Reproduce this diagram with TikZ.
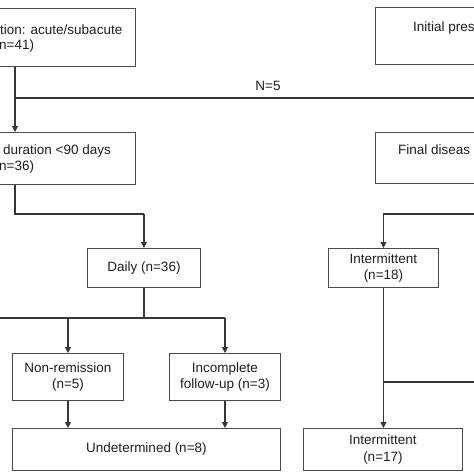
\documentclass[tikz,border=0pt]{standalone}
\usepackage{fontspec}
\setmainfont{Liberation Sans}
\usetikzlibrary{arrows.meta}
\definecolor{linecol}{RGB}{55,55,55}
\definecolor{boxcol}{RGB}{75,75,75}
\definecolor{txtcol}{RGB}{30,30,30}
\tikzset{
  box/.style={draw=boxcol, line width=0.9pt, rectangle, inner sep=0pt, anchor=north west,
    align=center, text=txtcol, font=\fontsize{13.5}{16.5}\selectfont},
  lbl/.style={inner sep=0pt, text=txtcol, font=\fontsize{13.5}{16.5}\selectfont},
  conn/.style={draw=linecol, line width=1.1pt},
  arr/.style={conn, -{Triangle[length=6pt,width=6pt]}, shorten >=0pt},
}
\begin{document}
\begin{tikzpicture}[x=1pt,y=-1pt]
\useasboundingbox (0,0) rectangle (474,474);
\clip (0,0) rectangle (474,474);
% boxes
\node[box, minimum width=295pt, minimum height=58pt] (b1) at (-160,8) {};
\node[lbl, anchor=west] (b1t1) at (0,30) {tion: acute/subacute};
\node[lbl, anchor=west] (b1t2) at (-1,46) {n=41)};
\node[box, minimum width=245pt, minimum height=57pt] (bi) at (375,7) {};
\node[lbl, anchor=west] (bit) at (413,28) {Initial pres};
\node[box, minimum width=295pt, minimum height=52pt] (b2) at (-160,132) {};
\node[lbl, anchor=west] (b2t1) at (3,151) {duration <90 days};
\node[lbl, anchor=west] (b2t2) at (-1,167) {n=36)};
\node[box, minimum width=245pt, minimum height=51pt] (bf) at (375,132) {};
\node[lbl, anchor=west] (bft) at (398,150) {Final diseas};
\node[box, minimum width=113pt, minimum height=39pt] (daily) at (87,248) {Daily (n=36)};
\node[box, minimum width=110pt, minimum height=39pt] (int18) at (328,248) {Intermittent\\(n=18)};
\node[box, minimum width=111pt, minimum height=47pt] (nonrem) at (12,353) {Non-remission\\(n=5)};
\node[box, minimum width=111pt, minimum height=47pt] (incomp) at (169,353) {Incomplete\\follow-up (n=3)};
\node[box, minimum width=268pt, minimum height=42pt] (undet) at (12,428) {Undetermined (n=8)};
\node[box, minimum width=159pt, minimum height=42pt] (int17) at (303,428) {Intermittent\\(n=17)};
% N=5 label
\node[lbl] (n5) at (268,86) {N=5};
% junction coordinates
\coordinate (j1) at (15,98);
\coordinate (e1) at (490,98);
\coordinate (j2) at (15,214);
\coordinate (j3) at (daily.north |- j2);
\coordinate (e2) at (490,214);
\coordinate (j4) at (int18.north |- e2);
\coordinate (j5) at (daily.south |- 0,318);
\coordinate (e3) at (-20,318);
\coordinate (j6) at (nonrem.north |- j5);
\coordinate (j7) at (incomp.north |- j5);
\coordinate (j8) at (int18.south |- 0,382);
\coordinate (e4) at (490,382);
% connectors
\draw[arr] (b1.south -| j1) -- (b2.north -| j1);
\draw[conn] (j1) -- (e1);
\draw[conn] (b2.south -| j2) -- (j2) -- (j3);
\draw[arr] (j3) -- (daily.north);
\draw[conn] (e2) -- (j4);
\draw[arr] (j4) -- (int18.north);
\draw[conn] (daily.south) -- (j5);
\draw[conn] (e3) -- (j7);
\draw[arr] (j6) -- (nonrem.north);
\draw[arr] (j7) -- (incomp.north);
\draw[arr] (nonrem.south) -- (undet.north -| nonrem.south);
\draw[arr] (incomp.south) -- (undet.north -| incomp.south);
\draw[arr] (int18.south) -- (int17.north -| int18.south);
\draw[conn] (j8) -- (e4);
\end{tikzpicture}
\end{document}
